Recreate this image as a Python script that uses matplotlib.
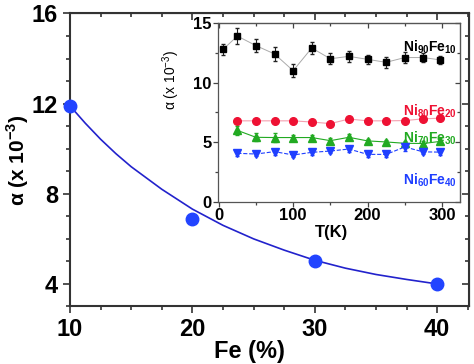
import matplotlib
matplotlib.use("Agg")
import matplotlib.pyplot as plt
from matplotlib.ticker import MultipleLocator

plt.rcParams['font.family'] = ['Liberation Sans', 'DejaVu Sans']
plt.rcParams['mathtext.fontset'] = 'custom'
plt.rcParams['mathtext.rm'] = 'Liberation Sans:bold'
plt.rcParams['mathtext.bf'] = 'Liberation Sans:bold'

# main panel data
fe = [10, 20, 30, 40]
alpha = [11.9, 6.9, 5.0, 4.0]
fit_x = [10, 11.25, 12.5, 13.75, 15, 17.5, 20, 22.5, 25, 27.5, 30, 32.5, 35, 37.5, 40]
fit_y = [11.9, 11.13, 10.42, 9.78, 9.2, 8.2, 7.32, 6.6, 6.0, 5.5, 5.05, 4.7, 4.42, 4.2, 4.0]

# inset data
T_black = [6, 25, 50, 75, 100, 125, 150, 175, 200, 225, 250, 275, 298]
a_black = [12.8, 13.9, 13.1, 12.4, 11.0, 12.9, 12.0, 12.2, 11.95, 11.7, 12.1, 12.1, 11.9]
e_black = [0.45, 0.65, 0.55, 0.6, 0.55, 0.5, 0.45, 0.45, 0.4, 0.45, 0.45, 0.4, 0.35]
T = [25, 50, 75, 100, 125, 150, 175, 200, 225, 250, 275, 298]
a_red = [6.8, 6.8, 6.8, 6.8, 6.7, 6.57, 6.95, 6.8, 6.8, 6.82, 6.97, 7.02]
a_green = [6.0, 5.42, 5.4, 5.4, 5.4, 5.14, 5.42, 5.12, 5.03, 4.92, 4.9, 5.08]
e_green = [0.35, 0.35, 0.35, 0.2, 0.2, 0.2, 0.25, 0.2, 0.2, 0.2, 0.2, 0.25]
a_blue = [4.08, 4.02, 4.22, 3.94, 4.16, 4.27, 4.44, 3.99, 3.99, 4.61, 4.2, 4.18]
e_blue = [0.2, 0.2, 0.25, 0.2, 0.2, 0.2, 0.25, 0.2, 0.2, 0.3, 0.2, 0.2]

fig = plt.figure(figsize=(4.74, 3.64), dpi=100)
ax = fig.add_axes([0.1477, 0.158, 0.8418, 0.805])

ax.plot(fit_x, fit_y, color='#2222cc', lw=1.2, zorder=2)
ax.plot(fe, alpha, 'o', color='#2244ff', ms=9, mec='#2244ff', zorder=3, clip_on=False)
ax.set_xlim(10, 42.6)
ax.set_ylim(3, 16)
ax.set_xticks([10, 20, 30, 40])
ax.set_yticks([4, 8, 12, 16])
ax.xaxis.set_minor_locator(MultipleLocator(2.5))
ax.yaxis.set_minor_locator(MultipleLocator(1))
ax.tick_params(which='both', direction='out', labelsize=17, width=1.2, color='#333333')
ax.tick_params(which='major', length=5)
ax.tick_params(which='minor', length=3)
for t in ax.get_xticklabels() + ax.get_yticklabels():
    t.set_fontweight('bold')
for s in ax.spines.values():
    s.set_linewidth(1.5)
    s.set_color('#333333')
ax.set_xlabel('Fe (%)', fontsize=17, fontweight='bold', labelpad=0)
ax.xaxis.set_label_coords(0.45, -0.115)
ax.set_ylabel('α (x 10$^{-3}$)', fontsize=15, fontweight='bold')
ax.yaxis.set_label_coords(-0.098, 0.5)

# mirrored ticks on top/right, pointing in
top = ax.secondary_xaxis('top')
top.set_xticks([10, 20, 30, 40])
top.xaxis.set_minor_locator(MultipleLocator(2.5))
top.tick_params(which='both', direction='in', labeltop=False, width=1.2, color='#333333')
top.tick_params(which='major', length=5)
top.tick_params(which='minor', length=3)
right = ax.secondary_yaxis('right')
right.set_yticks([4, 8, 12, 16])
right.yaxis.set_minor_locator(MultipleLocator(1))
right.tick_params(which='both', direction='in', labelright=False, width=1.2, color='#333333')
right.tick_params(which='major', length=5)
right.tick_params(which='minor', length=3)

# inset
ins = fig.add_axes([0.46, 0.445, 0.5115, 0.492])
ins.set_facecolor('white')
ins.errorbar(T_black, a_black, yerr=e_black, fmt='s-', color='#aaaaaa', ms=4.5,
             mfc='black', mec='black', lw=0.7, ecolor='#222222',
             elinewidth=0.8, capsize=1.5)
ins.plot(T, a_red, 'o-', color='#f4a0b0', ms=5.5, lw=0.8, mfc='#ee1133', mec='#ee1133')
ins.errorbar(T, a_green, yerr=e_green, fmt='^-', color='#22aa22', ms=5.5,
             lw=0.8, elinewidth=0.7, capsize=1.5)
ins.errorbar(T, a_blue, yerr=e_blue, fmt='v--', color='#1f3fff', ms=5.5,
             lw=0.8, elinewidth=0.7, capsize=1.5)
ins.set_xlim(-1, 325)
ins.set_ylim(0, 15)
ins.set_xticks([0, 100, 200, 300])
ins.set_yticks([0, 5, 10, 15])
ins.xaxis.set_minor_locator(MultipleLocator(50))
ins.yaxis.set_minor_locator(MultipleLocator(2.5))
ins.tick_params(which='both', direction='out', labelsize=12, width=0.9, pad=1, color='#444444')
ins.tick_params(which='major', length=3.5)
ins.tick_params(which='minor', length=2)
for t in ins.get_xticklabels() + ins.get_yticklabels():
    t.set_fontweight('bold')
for s in ins.spines.values():
    s.set_linewidth(0.9)
    s.set_color('#555555')
ins.set_xlabel('T(K)', fontsize=12, fontweight='bold', labelpad=0)
ins.xaxis.set_label_coords(0.47, -0.13)
ins.set_ylabel('α (x 10$^{\\mathregular{-3}}$)', fontsize=10)
ins.yaxis.set_label_coords(-0.15, 0.68)
itop = ins.secondary_xaxis('top')
itop.set_xticks([0, 100, 200, 300])
itop.xaxis.set_minor_locator(MultipleLocator(50))
itop.tick_params(which='both', direction='in', labeltop=False, width=0.9, color='#444444')
itop.tick_params(which='major', length=3.5)
itop.tick_params(which='minor', length=2)
iright = ins.secondary_yaxis('right')
iright.set_yticks([0, 5, 10, 15])
iright.yaxis.set_minor_locator(MultipleLocator(2.5))
iright.tick_params(which='both', direction='in', labelright=False, width=0.9, color='#444444')
iright.tick_params(which='major', length=3.5)
iright.tick_params(which='minor', length=2)

ins.text(0.985, 0.84, r'Ni$_{90}$Fe$_{10}$', transform=ins.transAxes, ha='right',
         color='black', fontsize=10, fontweight='bold')
ins.text(0.985, 0.48, r'Ni$_{80}$Fe$_{20}$', transform=ins.transAxes, ha='right',
         color='#ee1133', fontsize=10, fontweight='bold')
ins.text(0.985, 0.33, r'Ni$_{70}$Fe$_{30}$', transform=ins.transAxes, ha='right',
         color='#22aa22', fontsize=10, fontweight='bold')
ins.text(0.985, 0.10, r'Ni$_{60}$Fe$_{40}$', transform=ins.transAxes, ha='right',
         color='#1f3fff', fontsize=10, fontweight='bold')

fig.savefig('out.png', dpi=100)
